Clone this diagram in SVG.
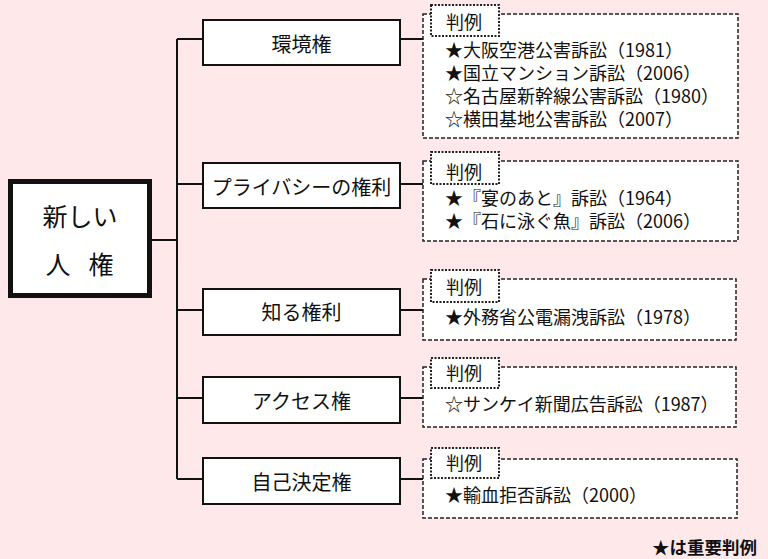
<svg xmlns="http://www.w3.org/2000/svg" width="768" height="559" viewBox="0 0 768 559">
<style>
.t{font-family:"Noto Sans CJK JP","Noto Sans",sans-serif;fill:#111}
.main{font-size:25px;text-anchor:middle}
.lab{font-size:20px;text-anchor:middle}
.case{font-size:18px}
.hr{font-size:18px}
.box{fill:#fff;stroke:#111;stroke-width:2}
.mbox{fill:#fff;stroke:#111;stroke-width:5}
.dash{fill:#fff;stroke:#222;stroke-width:1.5;stroke-dasharray:4 2}
.dot{fill:#fff;stroke:#222;stroke-width:2;stroke-dasharray:2 1.5}
.ln{fill:none;stroke:#111;stroke-width:2}
</style>
<rect width="768" height="559" fill="#FFE8EA"/>
<g id="connectors">
<path class="ln" d="M152 240H177M177 39V479M177 39H203M177 184H203M177 310H203M177 398H203M177 479H203"/>
<path class="ln" d="M400 39H423M400 184H423M400 310H423M400 398H423M400 479H423"/>
</g>
<g id="main">
<rect class="mbox" x="10.5" y="181.5" width="139" height="114"/>
<text class="t main" x="80" y="226">新しい</text>
<text class="t main" x="80" y="274"><tspan x="58">人</tspan><tspan x="101">権</tspan></text>
</g>
<g id="n1">
<rect class="box" x="203" y="20" width="197" height="45"/>
<text class="t lab" x="301.5" y="52">環境権</text>
</g>
<g id="n2">
<rect class="box" x="203" y="163" width="197" height="45"/>
<text class="t lab" x="301.5" y="195">プライバシーの権利</text>
</g>
<g id="n3">
<rect class="box" x="203" y="289" width="197" height="46"/>
<text class="t lab" x="301.5" y="320">知る権利</text>
</g>
<g id="n4">
<rect class="box" x="203" y="377" width="197" height="46"/>
<text class="t lab" x="301.5" y="409">アクセス権</text>
</g>
<g id="n5">
<rect class="box" x="203" y="458" width="197" height="46"/>
<text class="t lab" x="301.5" y="490">自己決定権</text>
</g>
<g id="c1">
<rect class="dash" x="423" y="14" width="315" height="124"/>
<rect class="dot" x="431" y="5" width="68" height="31"/>
<text class="t hr" x="446" y="28.5">判例</text>
<text class="t case" x="445" y="57">★大阪空港公害訴訟（1981）</text>
<text class="t case" x="445" y="80">★国立マンション訴訟（2006）</text>
<text class="t case" x="445" y="103">☆名古屋新幹線公害訴訟（1980）</text>
<text class="t case" x="445" y="126">☆横田基地公害訴訟（2007）</text>
</g>
<g id="c2">
<rect class="dash" x="423" y="161" width="315" height="80"/>
<rect class="dot" x="431" y="152" width="68" height="32"/>
<text class="t hr" x="446" y="178.5">判例</text>
<text class="t case" x="445" y="205">★『宴のあと』訴訟（1964）</text>
<text class="t case" x="445" y="227.5">★『石に泳ぐ魚』訴訟（2006）</text>
</g>
<g id="c3">
<rect class="dash" x="423" y="279" width="313" height="61"/>
<rect class="dot" x="431" y="270" width="68" height="32"/>
<text class="t hr" x="446" y="293.5">判例</text>
<text class="t case" x="445" y="323.5">★外務省公電漏洩訴訟（1978）</text>
</g>
<g id="c4">
<rect class="dash" x="423" y="367" width="313" height="60"/>
<rect class="dot" x="431" y="358" width="68" height="30"/>
<text class="t hr" x="446" y="379.5">判例</text>
<text class="t case" x="445" y="410.5">☆サンケイ新聞広告訴訟（1987）</text>
</g>
<g id="c5">
<rect class="dash" x="423" y="459" width="314" height="59"/>
<rect class="dot" x="431" y="448" width="68" height="30"/>
<text class="t hr" x="446" y="469.5">判例</text>
<text class="t case" x="445" y="501.5">★輸血拒否訴訟（2000）</text>
</g>
<g id="legend">
<text class="t" x="757" y="554" text-anchor="end" font-weight="bold" font-size="17.5">★は重要判例</text>
</g>
</svg>
